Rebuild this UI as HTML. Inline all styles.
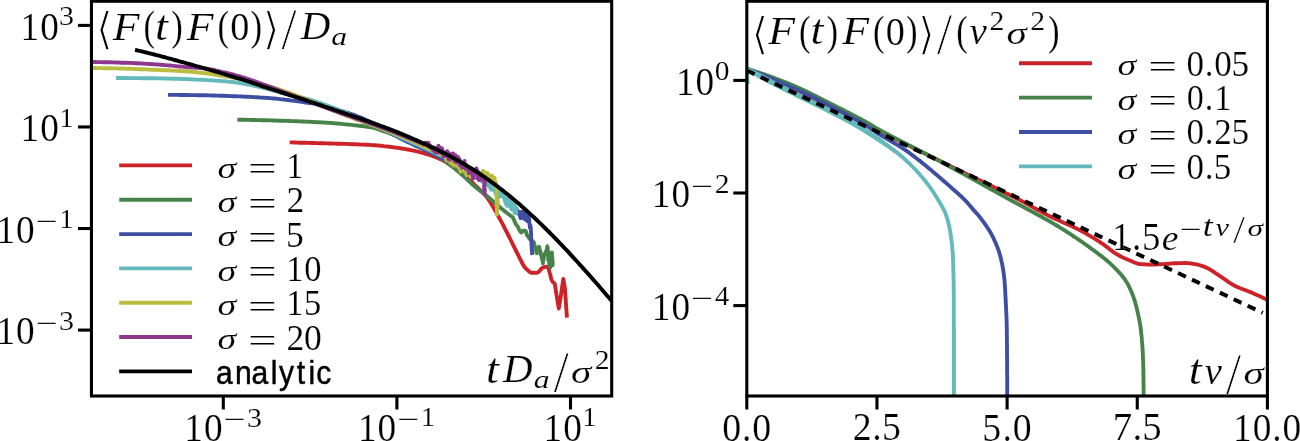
<!DOCTYPE html>
<html lang="en"><head><meta charset="utf-8"><title>Force autocorrelation</title>
<style>html,body{margin:0;padding:0;background:#fff}svg{display:block}text{white-space:pre}</style></head>
<body>
<svg width="1300" height="441" viewBox="0 0 1300 441">
<rect x="0" y="0" width="1300" height="441" fill="#fff"/>
<clipPath id="cl"><rect x="91.45" y="1.25" width="520.25" height="394.75"/></clipPath>
<clipPath id="cr"><rect x="746.80" y="1.25" width="520.60" height="394.75"/></clipPath>
<g clip-path="url(#cl)" fill="none" stroke-linejoin="round" stroke-linecap="butt">
<path d="M289.7 142.4 L291.7 142.4 L293.7 142.5 L295.7 142.5 L297.7 142.6 L299.7 142.7 L301.7 142.7 L303.7 142.8 L305.7 142.8 L307.7 142.9 L309.7 142.9 L311.7 143.0 L313.7 143.0 L315.7 143.1 L317.7 143.1 L319.7 143.2 L321.7 143.2 L323.7 143.3 L325.7 143.4 L327.7 143.4 L329.7 143.5 L331.7 143.5 L333.7 143.6 L335.7 143.6 L337.7 143.7 L339.7 143.8 L341.7 143.8 L343.7 143.9 L345.7 143.9 L347.7 144.0 L349.7 144.1 L351.7 144.2 L353.7 144.2 L355.7 144.3 L357.7 144.4 L359.7 144.5 L361.7 144.6 L363.7 144.6 L365.7 144.7 L367.7 144.8 L369.7 144.9 L371.7 145.1 L373.7 145.2 L375.7 145.3 L377.7 145.5 L379.7 145.7 L381.7 145.8 L383.7 146.1 L385.7 146.3 L387.7 146.5 L389.7 146.8 L391.7 147.0 L393.7 147.3 L395.7 147.6 L397.7 147.9 L399.7 148.2 L401.7 148.5 L403.7 148.8 L405.7 149.1 L407.7 149.5 L409.7 149.9 L411.7 150.3 L413.7 150.7 L415.7 151.2 L417.7 151.6 L419.7 152.1 L421.7 152.6 L423.7 153.2 L425.7 153.8 L427.7 154.4 L429.7 155.0 L431.7 155.7 L433.7 156.4 L435.7 157.2 L437.7 158.0 L439.7 158.9 L441.7 159.8 L443.7 160.9 L445.7 162.0 L447.7 163.3 L449.7 164.6 L451.7 166.0 L453.7 167.5 L455.7 169.1 L457.7 170.7 L459.7 172.3 L461.7 173.8 L463.7 175.4 L465.7 176.9 L467.7 178.6 L469.7 180.2 L471.7 182.0 L473.7 183.9 L475.7 185.8 L477.7 187.7 L479.7 189.7 L481.7 191.6 L483.7 193.6 L485.7 195.8 L487.7 198.4 L489.7 201.3 L491.7 204.6 L493.7 208.0 L495.7 211.5 L497.7 215.1 L499.7 218.7 L501.7 222.4 L503.7 226.2 L505.7 230.1 L507.7 234.0 L509.7 238.0 L511.7 242.0 L513.7 246.1 L515.7 250.1 L517.7 254.1 L519.7 258.1 L521.7 262.0 L523.5 265.6 L523.5 265.6 L524.2 266.6 L525.0 267.5 L525.8 268.4 L526.7 269.2 L527.6 270.1 L528.5 271.0 L529.5 271.9 L530.5 272.5 L531.6 272.8 L532.7 272.8 L534.0 272.8 L535.3 272.8 L536.4 272.8 L537.5 272.6 L538.4 272.1 L539.3 271.2 L540.2 270.1 L541.1 269.1 L542.0 268.2 L543.0 267.6 L544.3 267.2 L545.6 266.8 L546.7 266.6 L547.4 266.8 L547.9 267.4 L548.5 268.5 L548.9 269.9 L549.3 271.4 L549.7 272.8 L550.1 274.0 L550.4 275.2 L550.7 276.4 L551.0 277.7 L551.2 278.9 L551.6 280.0 L552.1 281.0 L552.7 281.9 L553.7 282.7 L554.7 283.5 L556.7 296.2 L558.8 308.5 L560.8 296.2 L563.3 278.9 L564.9 288.0 L566.9 317.7" stroke="#cc2228" stroke-width="3.86" />
<path d="M237.3 119.7 L239.3 119.7 L241.3 119.8 L243.3 119.8 L245.3 119.8 L247.3 119.9 L249.3 119.9 L251.3 120.0 L253.3 120.0 L255.3 120.0 L257.3 120.1 L259.3 120.1 L261.3 120.2 L263.3 120.2 L265.3 120.3 L267.3 120.3 L269.3 120.4 L271.3 120.4 L273.3 120.5 L275.3 120.5 L277.3 120.6 L279.3 120.7 L281.3 120.7 L283.3 120.8 L285.3 120.9 L287.3 120.9 L289.3 121.0 L291.3 121.1 L293.3 121.1 L295.3 121.2 L297.3 121.3 L299.3 121.4 L301.3 121.5 L303.3 121.5 L305.3 121.6 L307.3 121.7 L309.3 121.8 L311.3 121.9 L313.3 122.0 L315.3 122.1 L317.3 122.2 L319.3 122.3 L321.3 122.4 L323.3 122.5 L325.3 122.6 L327.3 122.7 L329.3 122.9 L331.3 123.0 L333.3 123.1 L335.3 123.3 L337.3 123.5 L339.3 123.7 L341.3 123.9 L343.3 124.1 L345.3 124.3 L347.3 124.5 L349.3 124.7 L351.3 124.9 L353.3 125.1 L355.3 125.3 L357.3 125.5 L359.3 125.8 L361.3 126.0 L363.3 126.2 L365.3 126.5 L367.3 126.8 L369.3 127.1 L371.3 127.4 L373.3 127.9 L375.3 128.4 L377.3 129.0 L379.3 129.7 L381.3 130.4 L383.3 131.1 L385.3 131.8 L387.3 132.5 L389.3 133.2 L391.3 133.9 L393.3 134.6 L395.3 135.4 L397.3 136.1 L399.3 136.9 L401.3 137.7 L403.3 138.6 L405.3 139.5 L407.3 140.4 L409.3 141.3 L411.3 142.2 L413.3 143.2 L415.3 144.2 L417.3 145.1 L419.3 146.1 L421.3 147.2 L423.3 148.2 L425.3 149.2 L427.3 150.2 L429.3 151.3 L431.3 152.4 L433.3 153.5 L435.3 154.6 L437.3 155.8 L439.3 157.1 L441.3 158.4 L443.3 159.7 L445.3 161.2 L447.3 162.6 L449.3 164.2 L451.3 165.8 L453.3 167.4 L455.3 169.0 L457.3 170.7 L459.3 172.4 L461.3 174.2 L463.3 175.9 L465.3 177.7 L467.3 179.6 L469.3 181.5 L471.3 183.5 L473.3 185.3 L475.3 186.9 L477.3 188.5 L479.3 190.1 L481.3 191.6 L483.3 193.2 L485.3 194.7 L487.3 196.3 L489.3 198.0 L491.3 199.8 L493.3 201.5 L495.3 203.3 L497.3 205.1 L499.3 206.8 L501.3 208.5 L503.3 210.1 L505.3 211.7 L507.3 213.3 L509.3 214.8 L511.3 216.3 L512.9 217.5 L516.0 224.5 L516.7 225.3 L517.5 226.5 L518.2 227.1 L519.0 229.4 L519.7 230.6 L520.5 231.8 L521.2 232.5 L521.8 232.2 L522.4 231.1 L523.0 230.8 L523.7 230.6 L524.3 230.9 L524.9 230.7 L525.5 230.8 L526.1 232.0 L526.7 234.2 L527.3 235.8 L527.9 236.0 L528.6 236.7 L529.3 238.7 L530.1 238.5 L530.9 239.9 L531.6 241.2 L532.4 241.3 L533.2 241.6 L533.8 242.8 L534.0 242.6 L534.2 243.7 L534.4 244.2 L534.6 245.2 L534.8 245.8 L535.0 246.8 L535.2 247.4 L535.5 248.7 L535.8 249.5 L536.0 250.5 L536.3 252.4 L536.6 250.4 L536.8 253.3 L537.1 251.3 L537.3 249.7 L537.6 250.3 L537.8 250.1 L538.1 250.6 L538.3 247.8 L538.6 249.1 L538.8 248.9 L539.0 246.7 L539.3 247.2 L539.5 249.1 L539.7 249.2 L540.0 250.5 L540.2 251.0 L540.5 252.0 L540.7 252.9 L541.0 255.5 L541.2 254.1 L541.5 256.0 L541.7 257.4 L541.9 255.5 L542.2 260.1 L542.4 257.9 L542.6 259.6 L542.9 263.5 L543.1 258.4 L543.4 257.8 L543.6 259.9 L543.9 255.0 L544.1 254.9 L544.4 255.3 L544.7 254.2 L545.1 253.4 L545.6 252.0 L546.0 252.5 L546.5 250.9 L546.9 249.2 L547.3 246.2 L547.5 247.8 L547.7 247.5 L547.9 253.5 L548.1 250.9 L548.2 257.2 L548.4 260.6 L548.7 257.1 L548.9 259.3 L549.1 261.1 L549.4 265.0 L549.6 263.4 L549.8 266.3 L550.0 266.4 L550.2 265.7 L550.3 267.5 L550.5 262.0 L550.7 262.8 L550.8 261.9 L551.0 261.9 L551.1 256.9 L551.3 260.9 L551.4 258.9 L551.6 259.0 L551.8 256.7 L551.9 252.4 L552.0 254.4 L552.2 258.5 L552.3 257.8 L552.4 258.5 L552.5 263.5 L552.6 265.4 L552.7 261.4" stroke="#46834a" stroke-width="3.86" />
<path d="M168.0 94.9 L170.0 94.9 L172.0 94.9 L174.0 94.9 L176.0 94.9 L178.0 94.9 L180.0 95.0 L182.0 95.0 L184.0 95.0 L186.0 95.0 L188.0 95.0 L190.0 95.1 L192.0 95.1 L194.0 95.1 L196.0 95.1 L198.0 95.2 L200.0 95.2 L202.0 95.2 L204.0 95.3 L206.0 95.3 L208.0 95.4 L210.0 95.4 L212.0 95.5 L214.0 95.5 L216.0 95.6 L218.0 95.6 L220.0 95.7 L222.0 95.8 L224.0 95.8 L226.0 95.9 L228.0 96.0 L230.0 96.1 L232.0 96.1 L234.0 96.2 L236.0 96.3 L238.0 96.4 L240.0 96.4 L242.0 96.5 L244.0 96.6 L246.0 96.7 L248.0 96.8 L250.0 96.9 L252.0 97.0 L254.0 97.1 L256.0 97.2 L258.0 97.3 L260.0 97.5 L262.0 97.6 L264.0 97.7 L266.0 97.9 L268.0 98.0 L270.0 98.1 L272.0 98.3 L274.0 98.5 L276.0 98.7 L278.0 98.9 L280.0 99.1 L282.0 99.3 L284.0 99.5 L286.0 99.8 L288.0 100.0 L290.0 100.3 L292.0 100.6 L294.0 100.8 L296.0 101.1 L298.0 101.4 L300.0 101.6 L302.0 101.9 L304.0 102.3 L306.0 102.6 L308.0 102.9 L310.0 103.1 L312.0 103.4 L314.0 103.7 L316.0 104.1 L318.0 104.5 L320.0 104.9 L322.0 105.5 L324.0 106.0 L326.0 106.6 L328.0 107.2 L330.0 107.8 L332.0 108.4 L334.0 108.9 L336.0 109.5 L338.0 110.0 L340.0 110.6 L342.0 111.1 L344.0 111.7 L346.0 112.3 L348.0 112.9 L350.0 113.5 L352.0 114.2 L354.0 114.9 L356.0 115.7 L358.0 116.5 L360.0 117.3 L362.0 118.1 L364.0 119.0 L366.0 119.9 L368.0 120.8 L370.0 121.7 L372.0 122.8 L374.0 123.8 L376.0 124.9 L378.0 126.0 L380.0 127.1 L382.0 128.2 L384.0 129.4 L386.0 130.5 L388.0 131.6 L390.0 132.7 L392.0 133.8 L394.0 135.0 L396.0 136.1 L398.0 137.1 L400.0 138.2 L402.0 139.2 L404.0 140.2 L406.0 141.2 L408.0 142.2 L410.0 143.1 L412.0 144.0 L414.0 145.0 L416.0 145.9 L418.0 146.8 L420.0 147.7 L422.0 148.6 L424.0 149.5 L426.0 150.4 L428.0 151.3 L430.0 152.3 L432.0 153.2 L434.0 154.1 L436.0 155.1 L438.0 156.1 L440.0 157.1 L442.0 158.2 L444.0 159.2 L446.0 160.2 L448.0 161.3 L450.0 162.3 L452.0 163.3 L454.0 164.4 L456.0 165.5 L458.0 166.6 L460.0 167.7 L462.0 168.8 L464.0 169.9 L466.0 171.0 L468.0 172.2 L470.0 173.3 L472.0 174.5 L474.0 175.8 L476.0 177.0 L478.0 178.3 L480.0 179.5 L482.0 180.9 L484.0 182.2 L486.0 183.6 L488.0 185.0 L490.0 186.5 L492.0 187.9 L494.0 189.4 L496.0 191.0 L498.0 192.5 L500.0 194.1 L502.0 195.7 L504.0 197.3 L506.0 199.0 L508.0 200.6 L510.0 202.3 L511.0 203.1 L512.0 204.2 L512.5 205.1 L513.0 204.4 L513.5 206.8 L514.0 206.2 L514.5 205.8 L515.0 207.8 L515.5 210.2 L516.0 210.6 L516.5 208.6 L517.0 211.9 L517.5 211.7 L518.0 213.6 L518.5 213.5 L519.0 211.8 L519.5 215.2 L520.0 214.0 L520.5 218.2 L521.0 216.0 L521.5 213.7 L522.0 211.7 L522.5 213.2 L523.0 214.8 L523.5 211.8 L524.0 218.8 L524.5 216.2 L525.0 219.2 L525.5 213.2 L526.0 220.0 L526.5 214.5 L527.0 216.6 L527.5 221.3 L528.0 221.3 L528.5 216.5 L529.0 218.8 L529.5 223.6 L530.0 228.0 L530.5 225.7 L531.0 232.0 L531.6 246.0 L532.2 255.0" stroke="#3e4ea2" stroke-width="3.86" />
<path d="M116.0 78.0 L118.0 78.0 L120.0 78.0 L122.0 78.0 L124.0 78.0 L126.0 78.0 L128.0 78.0 L130.0 78.1 L132.0 78.1 L134.0 78.1 L136.0 78.1 L138.0 78.1 L140.0 78.1 L142.0 78.2 L144.0 78.2 L146.0 78.2 L148.0 78.2 L150.0 78.3 L152.0 78.3 L154.0 78.3 L156.0 78.3 L158.0 78.4 L160.0 78.4 L162.0 78.4 L164.0 78.5 L166.0 78.5 L168.0 78.6 L170.0 78.6 L172.0 78.7 L174.0 78.7 L176.0 78.8 L178.0 78.8 L180.0 78.9 L182.0 79.0 L184.0 79.0 L186.0 79.1 L188.0 79.2 L190.0 79.3 L192.0 79.4 L194.0 79.5 L196.0 79.6 L198.0 79.6 L200.0 79.7 L202.0 79.8 L204.0 79.9 L206.0 80.0 L208.0 80.1 L210.0 80.3 L212.0 80.4 L214.0 80.5 L216.0 80.6 L218.0 80.8 L220.0 80.9 L222.0 81.1 L224.0 81.2 L226.0 81.4 L228.0 81.6 L230.0 81.8 L232.0 82.0 L234.0 82.2 L236.0 82.5 L238.0 82.8 L240.0 83.1 L242.0 83.4 L244.0 83.8 L246.0 84.1 L248.0 84.5 L250.0 84.9 L252.0 85.4 L254.0 85.8 L256.0 86.2 L258.0 86.6 L260.0 87.1 L262.0 87.6 L264.0 88.0 L266.0 88.6 L268.0 89.1 L270.0 89.6 L272.0 90.1 L274.0 90.7 L276.0 91.2 L278.0 91.7 L280.0 92.3 L282.0 92.8 L284.0 93.3 L286.0 93.8 L288.0 94.3 L290.0 94.8 L292.0 95.2 L294.0 95.7 L296.0 96.2 L298.0 96.6 L300.0 97.1 L302.0 97.6 L304.0 98.1 L306.0 98.6 L308.0 99.1 L310.0 99.7 L312.0 100.3 L314.0 100.9 L316.0 101.5 L318.0 102.2 L320.0 102.9 L322.0 103.6 L324.0 104.3 L326.0 105.0 L328.0 105.8 L330.0 106.5 L332.0 107.3 L334.0 108.0 L336.0 108.8 L338.0 109.6 L340.0 110.4 L342.0 111.2 L344.0 112.1 L346.0 112.9 L348.0 113.8 L350.0 114.6 L352.0 115.5 L354.0 116.4 L356.0 117.3 L358.0 118.1 L360.0 119.0 L362.0 119.9 L364.0 120.8 L366.0 121.6 L368.0 122.5 L370.0 123.4 L372.0 124.3 L374.0 125.2 L376.0 126.1 L378.0 127.0 L380.0 127.9 L382.0 128.8 L384.0 129.7 L386.0 130.6 L388.0 131.5 L390.0 132.4 L392.0 133.3 L394.0 134.3 L396.0 135.2 L398.0 136.1 L400.0 137.0 L402.0 137.9 L404.0 138.8 L406.0 139.7 L408.0 140.6 L410.0 141.5 L412.0 142.4 L414.0 143.3 L416.0 144.2 L418.0 145.1 L420.0 146.0 L422.0 146.9 L424.0 147.8 L426.0 148.7 L428.0 149.6 L430.0 150.5 L432.0 151.5 L434.0 152.4 L436.0 153.4 L438.0 154.3 L440.0 155.3 L442.0 156.3 L444.0 157.3 L446.0 158.3 L448.0 159.4 L450.0 160.4 L452.0 161.5 L454.0 162.6 L456.0 163.7 L458.0 164.9 L460.0 166.0 L462.0 167.2 L464.0 168.4 L466.0 169.6 L468.0 170.9 L470.0 172.1 L472.0 173.4 L474.0 174.7 L476.0 175.9 L478.0 177.2 L479.0 177.9 L480.0 179.0 L480.5 179.1 L481.0 179.2 L481.5 178.1 L482.0 179.8 L482.5 180.5 L483.0 181.1 L483.5 181.0 L484.0 181.8 L484.5 181.7 L485.0 181.4 L485.5 184.3 L486.0 184.1 L486.5 185.3 L487.0 184.1 L487.5 183.6 L488.0 183.8 L488.5 182.5 L489.0 186.8 L489.5 183.8 L490.0 184.8 L490.5 186.3 L491.0 189.7 L491.5 187.9 L492.0 185.5 L492.5 186.8 L493.0 189.5 L493.5 188.7 L494.0 187.9 L494.5 188.7 L495.0 190.6 L495.5 193.9 L496.0 187.9 L496.5 190.3 L497.0 189.9 L497.5 187.3 L498.0 191.7 L498.5 191.5 L499.0 197.2 L499.5 194.5 L500.0 190.4 L500.5 196.2 L501.0 194.6 L501.5 191.8 L502.0 194.7 L502.5 194.4 L503.0 194.7 L503.5 197.3 L504.0 192.3 L504.5 198.3 L505.0 201.7 L505.5 201.6 L506.0 204.2 L506.5 204.5 L507.0 205.8 L507.5 199.6 L508.0 204.6 L508.5 198.2 L509.0 201.4 L509.5 198.2 L510.0 206.9 L510.5 207.2 L511.0 203.5 L511.5 209.4 L512.0 202.2 L512.5 206.9 L513.0 207.3 L513.5 203.7 L514.0 208.7 L514.5 213.0 L515.0 205.8 L515.5 212.0 L516.0 208.7 L516.5 214.6" stroke="#64b9bb" stroke-width="3.86" />
<path d="M91.7 68.0 L93.7 68.0 L95.7 68.0 L97.7 68.1 L99.7 68.1 L101.7 68.1 L103.7 68.2 L105.7 68.2 L107.7 68.2 L109.7 68.3 L111.7 68.3 L113.7 68.4 L115.7 68.4 L117.7 68.4 L119.7 68.5 L121.7 68.5 L123.7 68.6 L125.7 68.7 L127.7 68.7 L129.7 68.8 L131.7 68.9 L133.7 68.9 L135.7 69.0 L137.7 69.1 L139.7 69.2 L141.7 69.3 L143.7 69.3 L145.7 69.4 L147.7 69.5 L149.7 69.6 L151.7 69.7 L153.7 69.8 L155.7 69.8 L157.7 69.9 L159.7 70.0 L161.7 70.1 L163.7 70.2 L165.7 70.3 L167.7 70.3 L169.7 70.4 L171.7 70.5 L173.7 70.6 L175.7 70.7 L177.7 70.9 L179.7 71.0 L181.7 71.1 L183.7 71.2 L185.7 71.3 L187.7 71.5 L189.7 71.7 L191.7 71.8 L193.7 72.0 L195.7 72.2 L197.7 72.5 L199.7 72.7 L201.7 72.9 L203.7 73.1 L205.7 73.4 L207.7 73.6 L209.7 73.9 L211.7 74.2 L213.7 74.5 L215.7 74.9 L217.7 75.2 L219.7 75.5 L221.7 75.9 L223.7 76.2 L225.7 76.5 L227.7 76.9 L229.7 77.2 L231.7 77.6 L233.7 77.9 L235.7 78.2 L237.7 78.6 L239.7 79.0 L241.7 79.3 L243.7 79.7 L245.7 80.1 L247.7 80.5 L249.7 81.0 L251.7 81.4 L253.7 81.9 L255.7 82.4 L257.7 82.9 L259.7 83.5 L261.7 84.0 L263.7 84.6 L265.7 85.2 L267.7 85.8 L269.7 86.4 L271.7 87.0 L273.7 87.6 L275.7 88.3 L277.7 88.9 L279.7 89.6 L281.7 90.3 L283.7 91.0 L285.7 91.7 L287.7 92.4 L289.7 93.1 L291.7 93.8 L293.7 94.5 L295.7 95.3 L297.7 96.0 L299.7 96.8 L301.7 97.6 L303.7 98.4 L305.7 99.2 L307.7 100.0 L309.7 100.8 L311.7 101.6 L313.7 102.4 L315.7 103.2 L317.7 104.1 L319.7 104.9 L321.7 105.7 L323.7 106.5 L325.7 107.3 L327.7 108.2 L329.7 109.0 L331.7 109.8 L333.7 110.7 L335.7 111.5 L337.7 112.3 L339.7 113.1 L341.7 113.9 L343.7 114.7 L345.7 115.4 L347.7 116.2 L349.7 117.0 L351.7 117.7 L353.7 118.4 L355.7 119.2 L357.7 119.9 L359.7 120.6 L361.7 121.4 L363.7 122.1 L365.7 122.8 L367.7 123.5 L369.7 124.2 L371.7 125.0 L373.7 125.7 L375.7 126.4 L377.7 127.2 L379.7 127.9 L381.7 128.6 L383.7 129.4 L385.7 130.1 L387.7 130.9 L389.7 131.7 L391.7 132.4 L393.7 133.2 L395.7 134.0 L397.7 134.9 L399.7 135.7 L401.7 136.5 L403.7 137.4 L405.7 138.2 L407.7 139.1 L409.7 140.0 L411.7 140.8 L413.7 141.7 L415.7 142.6 L417.7 143.5 L419.7 144.5 L421.7 145.4 L423.7 146.3 L425.7 147.2 L427.7 148.2 L429.7 149.1 L431.7 150.1 L433.7 151.1 L435.7 152.0 L437.7 153.0 L439.7 154.0 L441.7 155.0 L443.7 156.0 L444.0 156.1 L445.0 157.6 L445.5 157.6 L446.0 155.7 L446.5 160.5 L447.0 156.7 L447.5 158.2 L448.0 160.3 L448.5 157.8 L449.0 158.2 L449.5 158.6 L450.0 161.2 L450.5 163.2 L451.0 160.8 L451.5 159.1 L452.0 161.2 L452.5 161.2 L453.0 162.5 L453.5 165.3 L454.0 162.2 L454.5 164.4 L455.0 163.3 L455.5 164.8 L456.0 165.8 L456.5 164.5 L457.0 165.2 L457.5 166.5 L458.0 167.1 L458.5 165.7 L459.0 165.1 L459.5 167.7 L460.0 167.8 L460.5 171.8 L461.0 163.7 L461.5 168.1 L462.0 168.3 L462.5 170.4 L463.0 170.1 L463.5 167.8 L464.0 169.5 L464.5 171.9 L465.0 170.9 L465.5 173.0 L466.0 167.9 L466.5 175.2 L467.0 174.9 L467.5 171.9 L468.0 174.0 L468.5 173.3 L469.0 171.5 L469.5 173.1 L470.0 175.2 L470.5 171.9 L471.0 171.9 L471.5 171.9 L472.0 174.0 L472.5 175.9 L473.0 172.7 L473.5 174.6 L474.0 174.5 L474.5 171.0 L475.0 174.1 L475.5 175.3 L476.0 175.4 L476.5 175.2 L477.0 170.6 L477.5 174.2 L478.0 173.4 L478.5 171.9 L479.0 175.5 L479.5 176.9 L480.0 174.5 L480.5 176.7 L481.0 174.1 L481.5 174.6 L482.0 172.8 L482.5 178.7 L483.0 170.7 L483.5 176.4 L484.0 177.5 L484.5 171.9 L485.0 175.3 L485.5 174.4 L486.0 176.5 L486.5 178.1 L487.0 174.8 L487.5 172.9 L488.0 178.2 L488.5 177.7 L489.0 175.2 L489.5 177.2 L490.0 176.9 L490.5 178.0 L491.0 178.5 L491.5 182.3 L492.0 175.5 L492.5 181.9 L493.0 180.9 L493.5 180.8 L494.0 184.3 L494.5 177.7 L495.0 186.1 L495.5 184.7 L496.0 182.5 L496.5 186.6 L496.5 190.0 L497.0 214.5 L497.6 200.0 L498.0 205.0" stroke="#babd40" stroke-width="3.86" />
<path d="M91.7 62.0 L93.7 62.0 L95.7 62.0 L97.7 62.1 L99.7 62.1 L101.7 62.1 L103.7 62.2 L105.7 62.2 L107.7 62.3 L109.7 62.3 L111.7 62.4 L113.7 62.4 L115.7 62.5 L117.7 62.5 L119.7 62.6 L121.7 62.7 L123.7 62.7 L125.7 62.8 L127.7 62.9 L129.7 62.9 L131.7 63.0 L133.7 63.1 L135.7 63.2 L137.7 63.3 L139.7 63.4 L141.7 63.5 L143.7 63.6 L145.7 63.8 L147.7 63.9 L149.7 64.0 L151.7 64.1 L153.7 64.2 L155.7 64.4 L157.7 64.5 L159.7 64.7 L161.7 64.8 L163.7 65.0 L165.7 65.1 L167.7 65.3 L169.7 65.5 L171.7 65.7 L173.7 65.9 L175.7 66.1 L177.7 66.3 L179.7 66.5 L181.7 66.7 L183.7 66.9 L185.7 67.1 L187.7 67.2 L189.7 67.4 L191.7 67.5 L193.7 67.6 L195.7 67.7 L197.7 67.9 L199.7 68.0 L201.7 68.2 L203.7 68.4 L205.7 68.6 L207.7 68.8 L209.7 69.2 L211.7 69.5 L213.7 69.9 L215.7 70.4 L217.7 70.8 L219.7 71.3 L221.7 71.8 L223.7 72.2 L225.7 72.7 L227.7 73.2 L229.7 73.7 L231.7 74.2 L233.7 74.7 L235.7 75.3 L237.7 75.8 L239.7 76.4 L241.7 77.0 L243.7 77.6 L245.7 78.2 L247.7 78.9 L249.7 79.5 L251.7 80.2 L253.7 80.9 L255.7 81.6 L257.7 82.4 L259.7 83.1 L261.7 83.9 L263.7 84.6 L265.7 85.3 L267.7 86.1 L269.7 86.8 L271.7 87.5 L273.7 88.3 L275.7 89.1 L277.7 89.8 L279.7 90.6 L281.7 91.3 L283.7 92.1 L285.7 92.8 L287.7 93.5 L289.7 94.3 L291.7 95.0 L293.7 95.7 L295.7 96.5 L297.7 97.2 L299.7 97.9 L301.7 98.6 L303.7 99.4 L305.7 100.1 L307.7 100.8 L309.7 101.6 L311.7 102.3 L313.7 103.1 L315.7 103.8 L317.7 104.6 L319.7 105.4 L321.7 106.1 L323.7 106.9 L325.7 107.6 L327.7 108.4 L329.7 109.1 L331.7 109.9 L333.7 110.6 L335.7 111.3 L337.7 112.0 L339.7 112.8 L341.7 113.5 L343.7 114.2 L345.7 114.9 L347.7 115.6 L349.7 116.3 L351.7 117.0 L353.7 117.7 L355.7 118.4 L357.7 119.1 L359.7 119.8 L361.7 120.5 L363.7 121.2 L365.7 121.9 L367.7 122.6 L369.7 123.3 L371.7 124.0 L373.7 124.8 L375.7 125.5 L377.7 126.2 L379.7 126.9 L381.7 127.6 L383.7 128.4 L385.7 129.1 L387.7 129.8 L389.7 130.6 L391.7 131.3 L393.7 132.1 L395.7 132.8 L397.7 133.6 L399.7 134.4 L401.7 135.2 L403.7 136.0 L405.7 136.8 L407.7 137.6 L409.7 138.4 L411.7 139.3 L413.7 140.1 L415.7 141.0 L417.7 141.8 L419.7 142.7 L421.7 143.5 L423.7 144.4 L424.0 144.5 L425.0 144.7 L425.5 142.8 L426.0 143.4 L426.5 144.3 L427.0 142.8 L427.5 143.9 L428.0 144.1 L428.5 142.7 L429.0 146.7 L429.5 146.4 L430.0 145.4 L430.5 146.6 L431.0 148.1 L431.5 147.2 L432.0 148.0 L432.5 147.1 L433.0 150.2 L433.5 150.0 L434.0 150.6 L434.5 147.7 L435.0 152.3 L435.5 150.5 L436.0 149.3 L436.5 152.7 L437.0 149.4 L437.5 147.6 L438.0 149.7 L438.5 145.7 L439.0 152.2 L439.5 150.0 L440.0 149.4 L440.5 152.7 L441.0 148.0 L441.5 152.5 L442.0 148.3 L442.5 151.6 L443.0 151.2 L443.5 156.6 L444.0 156.3 L444.5 152.4 L445.0 155.2 L445.5 153.0 L446.0 155.0 L446.5 153.3 L447.0 151.1 L447.5 151.8 L448.0 156.0 L448.5 159.1 L449.0 155.7 L449.5 153.4 L450.0 159.9 L450.5 157.7 L451.0 157.5 L451.5 157.5 L452.0 156.9 L452.5 156.0 L453.0 153.5 L453.5 157.4 L454.0 157.1 L454.5 161.4 L455.0 157.6 L455.5 155.1 L456.0 159.1 L456.5 162.5 L457.0 157.8 L457.5 158.0 L458.0 156.9 L458.5 158.5 L459.0 161.0 L459.5 159.1 L460.0 165.4 L460.5 161.2 L461.0 162.3 L461.5 166.2 L462.0 167.7 L462.5 164.3 L463.0 166.0 L463.5 166.4 L464.0 164.6 L464.5 161.0 L465.0 167.4 L465.5 168.7 L466.0 168.2 L466.5 165.1 L467.0 166.7 L467.5 166.4 L468.0 166.6 L468.5 171.5 L469.0 173.3 L469.5 172.6 L470.0 172.4 L470.5 172.4 L471.0 171.5 L471.5 171.7 L472.0 168.8 L472.5 171.7 L473.0 178.8 L473.5 175.2 L474.0 171.4 L474.5 171.9 L475.0 170.1 L475.5 173.2 L476.0 173.0 L476.5 168.3 L477.0 173.9 L477.5 171.1 L478.0 178.8 L478.5 174.7 L479.0 180.2 L479.5 173.4 L480.0 174.4 L480.5 175.7 L481.0 179.1 L481.5 178.9 L482.0 175.2 L482.5 178.8 L483.0 179.1 L483.5 179.2 L484.0 178.6 L484.5 186.1 L485.0 179.4 L485.5 178.3 L484.0 186.0 L484.5 194.5 L485.0 188.0" stroke="#8e378f" stroke-width="3.86" />
<path d="M135.0 49.9 L136.6 50.2 L138.2 50.6 L139.8 50.9 L141.4 51.3 L143.0 51.7 L144.6 52.1 L146.2 52.5 L147.8 52.9 L149.3 53.3 L150.9 53.7 L152.5 54.1 L154.1 54.5 L155.7 54.9 L157.3 55.3 L158.9 55.7 L160.5 56.2 L162.1 56.6 L163.7 57.0 L165.3 57.4 L166.9 57.9 L168.5 58.3 L170.1 58.7 L171.7 59.2 L173.3 59.6 L174.9 60.0 L176.5 60.5 L178.0 60.9 L179.6 61.4 L181.2 61.8 L182.8 62.2 L184.4 62.7 L186.0 63.1 L187.6 63.6 L189.2 64.0 L190.8 64.5 L192.4 64.9 L194.0 65.4 L195.6 65.8 L197.2 66.3 L198.8 66.7 L200.4 67.2 L202.0 67.6 L203.6 68.1 L205.1 68.5 L206.7 69.0 L208.3 69.5 L209.9 69.9 L211.5 70.4 L213.1 70.8 L214.7 71.3 L216.3 71.8 L217.9 72.2 L219.5 72.7 L221.1 73.2 L222.7 73.7 L224.3 74.1 L225.9 74.6 L227.5 75.1 L229.1 75.6 L230.7 76.0 L232.3 76.5 L233.8 77.0 L235.4 77.5 L237.0 78.0 L238.6 78.4 L240.2 78.9 L241.8 79.4 L243.4 79.9 L245.0 80.4 L246.6 80.9 L248.2 81.4 L249.8 81.9 L251.4 82.5 L253.0 83.0 L254.6 83.6 L256.2 84.1 L257.8 84.7 L259.4 85.2 L261.0 85.8 L262.5 86.3 L264.1 86.8 L265.7 87.3 L267.3 87.8 L268.9 88.3 L270.5 88.9 L272.1 89.4 L273.7 89.9 L275.3 90.4 L276.9 90.9 L278.5 91.4 L280.1 92.0 L281.7 92.5 L283.3 93.0 L284.9 93.5 L286.5 94.0 L288.1 94.5 L289.6 95.1 L291.2 95.6 L292.8 96.1 L294.4 96.6 L296.0 97.1 L297.6 97.7 L299.2 98.2 L300.8 98.7 L302.4 99.2 L304.0 99.7 L305.6 100.2 L307.2 100.8 L308.8 101.3 L310.4 101.8 L312.0 102.3 L313.6 102.9 L315.2 103.4 L316.8 103.9 L318.3 104.4 L319.9 105.0 L321.5 105.5 L323.1 106.0 L324.7 106.6 L326.3 107.1 L327.9 107.6 L329.5 108.2 L331.1 108.7 L332.7 109.2 L334.3 109.8 L335.9 110.3 L337.5 110.9 L339.1 111.4 L340.7 112.0 L342.3 112.5 L343.9 113.0 L345.4 113.6 L347.0 114.1 L348.6 114.7 L350.2 115.2 L351.8 115.7 L353.4 116.3 L355.0 116.8 L356.6 117.4 L358.2 117.9 L359.8 118.4 L361.4 119.0 L363.0 119.5 L364.6 120.1 L366.2 120.6 L367.8 121.2 L369.4 121.8 L371.0 122.3 L372.6 122.9 L374.1 123.5 L375.7 124.0 L377.3 124.6 L378.9 125.2 L380.5 125.8 L382.1 126.3 L383.7 126.9 L385.3 127.5 L386.9 128.1 L388.5 128.7 L390.1 129.3 L391.7 129.9 L393.3 130.5 L394.9 131.2 L396.5 131.8 L398.1 132.4 L399.7 133.1 L401.3 133.7 L402.8 134.4 L404.4 135.0 L406.0 135.7 L407.6 136.4 L409.2 137.1 L410.8 137.8 L412.4 138.5 L414.0 139.2 L415.6 139.9 L417.2 140.6 L418.8 141.3 L420.4 142.0 L422.0 142.7 L423.6 143.4 L425.2 144.1 L426.8 144.9 L428.4 145.6 L429.9 146.3 L431.5 147.1 L433.1 147.8 L434.7 148.6 L436.3 149.3 L437.9 150.1 L439.5 150.9 L441.1 151.7 L442.7 152.5 L444.3 153.3 L445.9 154.1 L447.5 154.9 L449.1 155.7 L450.7 156.6 L452.3 157.4 L453.9 158.3 L455.5 159.2 L457.1 160.0 L458.6 160.9 L460.2 161.9 L461.8 162.8 L463.4 163.7 L465.0 164.6 L466.6 165.6 L468.2 166.6 L469.8 167.5 L471.4 168.5 L473.0 169.5 L474.6 170.5 L476.2 171.5 L477.8 172.6 L479.4 173.6 L481.0 174.7 L482.6 175.8 L484.2 176.8 L485.7 177.9 L487.3 179.1 L488.9 180.2 L490.5 181.3 L492.1 182.5 L493.7 183.6 L495.3 184.8 L496.9 186.0 L498.5 187.2 L500.1 188.5 L501.7 189.7 L503.3 190.9 L504.9 192.2 L506.5 193.5 L508.1 194.7 L509.7 196.0 L511.3 197.4 L512.9 198.7 L514.4 200.0 L516.0 201.4 L517.6 202.7 L519.2 204.1 L520.8 205.5 L522.4 206.9 L524.0 208.3 L525.6 209.7 L527.2 211.2 L528.8 212.6 L530.4 214.1 L532.0 215.6 L533.6 217.0 L535.2 218.5 L536.8 220.0 L538.4 221.6 L540.0 223.1 L541.6 224.6 L543.1 226.2 L544.7 227.8 L546.3 229.3 L547.9 230.9 L549.5 232.5 L551.1 234.1 L552.7 235.7 L554.3 237.4 L555.9 239.0 L557.5 240.6 L559.1 242.3 L560.7 244.0 L562.3 245.6 L563.9 247.3 L565.5 249.0 L567.1 250.7 L568.7 252.4 L570.2 254.1 L571.8 255.8 L573.4 257.6 L575.0 259.3 L576.6 261.0 L578.2 262.8 L579.8 264.6 L581.4 266.3 L583.0 268.1 L584.6 269.9 L586.2 271.7 L587.8 273.4 L589.4 275.2 L591.0 277.0 L592.6 278.9 L594.2 280.7 L595.8 282.5 L597.4 284.3 L598.9 286.1 L600.5 288.0 L602.1 289.8 L603.7 291.7 L605.3 293.5 L606.9 295.4 L608.5 297.2 L610.1 299.1 L611.7 301.0" stroke="#000000" stroke-width="3.95" />
</g>
<g clip-path="url(#cr)" fill="none" stroke-linejoin="round" stroke-linecap="butt">
<path d="M746.8 68.7 L748.6 69.4 L750.3 70.2 L752.1 71.0 L753.9 71.7 L755.6 72.5 L757.4 73.3 L759.2 74.1 L760.9 74.8 L762.7 75.6 L764.5 76.4 L766.2 77.2 L768.0 77.9 L769.7 78.7 L771.5 79.5 L773.3 80.3 L775.0 81.1 L776.8 81.9 L778.5 82.7 L780.3 83.5 L782.0 84.3 L783.8 85.0 L785.5 85.8 L787.3 86.6 L789.1 87.4 L790.8 88.2 L792.6 89.0 L794.3 89.8 L796.1 90.7 L797.8 91.5 L799.6 92.3 L801.3 93.1 L803.0 93.9 L804.8 94.7 L806.5 95.5 L808.3 96.3 L810.0 97.2 L811.8 98.0 L813.5 98.8 L815.2 99.6 L817.0 100.5 L818.7 101.3 L820.5 102.1 L822.2 103.0 L823.9 103.8 L825.7 104.6 L827.4 105.5 L829.1 106.3 L830.9 107.1 L832.6 108.0 L834.3 108.8 L836.1 109.7 L837.8 110.5 L839.5 111.4 L841.3 112.2 L843.0 113.0 L844.7 113.9 L846.5 114.7 L848.2 115.6 L849.9 116.4 L851.6 117.3 L853.4 118.1 L855.1 119.0 L856.8 119.8 L858.6 120.7 L860.3 121.5 L862.0 122.4 L863.7 123.2 L865.5 124.1 L867.2 124.9 L868.9 125.8 L870.6 126.6 L872.4 127.5 L874.1 128.4 L875.8 129.2 L877.5 130.1 L879.3 130.9 L881.0 131.8 L882.7 132.6 L884.4 133.5 L886.2 134.4 L887.9 135.2 L889.6 136.1 L891.3 136.9 L893.1 137.8 L894.8 138.7 L896.5 139.5 L898.2 140.4 L900.0 141.2 L901.7 142.1 L903.4 142.9 L905.1 143.8 L906.9 144.6 L908.6 145.5 L910.3 146.3 L912.0 147.2 L913.8 148.1 L915.5 148.9 L917.2 149.8 L919.0 150.6 L920.7 151.5 L922.4 152.3 L924.1 153.2 L925.9 154.0 L927.6 154.9 L929.3 155.7 L931.0 156.6 L932.8 157.4 L934.5 158.3 L936.2 159.1 L938.0 160.0 L939.7 160.8 L941.4 161.7 L943.1 162.5 L944.9 163.4 L946.6 164.2 L948.3 165.1 L950.0 165.9 L951.8 166.8 L953.5 167.6 L955.2 168.5 L957.0 169.3 L958.7 170.2 L960.4 171.0 L962.2 171.9 L963.9 172.7 L965.6 173.5 L967.4 174.4 L969.1 175.2 L970.8 176.0 L972.6 176.9 L974.3 177.7 L976.1 178.5 L977.8 179.4 L979.5 180.2 L981.3 181.0 L983.0 181.9 L984.7 182.7 L986.5 183.6 L988.2 184.4 L989.9 185.2 L991.7 186.1 L993.4 186.9 L995.1 187.8 L996.9 188.6 L998.6 189.5 L1000.3 190.3 L1002.0 191.2 L1003.8 192.0 L1005.5 192.9 L1007.2 193.7 L1008.9 194.6 L1010.7 195.4 L1012.4 196.3 L1014.1 197.2 L1015.8 198.1 L1017.5 198.9 L1019.2 199.8 L1021.0 200.7 L1022.7 201.6 L1024.4 202.5 L1026.0 203.4 L1027.7 204.4 L1029.4 205.3 L1031.1 206.2 L1032.8 207.2 L1034.5 208.1 L1036.2 209.0 L1037.9 210.0 L1039.5 210.9 L1041.2 211.8 L1042.9 212.7 L1044.6 213.6 L1046.3 214.5 L1048.0 215.4 L1049.8 216.3 L1051.5 217.1 L1053.2 217.9 L1055.0 218.8 L1056.7 219.5 L1058.5 220.3 L1060.3 221.1 L1062.0 221.9 L1063.8 222.7 L1065.6 223.4 L1067.3 224.2 L1069.1 225.0 L1070.9 225.8 L1072.6 226.6 L1074.3 227.4 L1076.1 228.2 L1077.8 229.1 L1079.5 230.0 L1081.2 230.9 L1082.9 231.8 L1084.6 232.7 L1086.2 233.7 L1087.9 234.7 L1089.6 235.6 L1091.2 236.6 L1092.9 237.6 L1094.5 238.6 L1096.2 239.7 L1097.8 240.7 L1099.4 241.7 L1101.0 242.8 L1102.6 243.8 L1104.2 245.0 L1105.7 246.1 L1107.3 247.3 L1108.8 248.5 L1110.3 249.7 L1111.9 250.9 L1113.4 252.0 L1115.0 253.1 L1116.6 254.1 L1118.3 255.0 L1120.0 256.0 L1121.7 256.9 L1123.4 257.7 L1125.2 258.5 L1126.9 259.3 L1128.7 260.0 L1130.5 260.8 L1132.3 261.6 L1134.1 262.4 L1135.9 263.0 L1137.7 263.6 L1139.6 264.0 L1141.5 264.1 L1143.4 264.3 L1145.3 264.4 L1147.3 264.5 L1149.2 264.6 L1151.1 264.6 L1153.0 264.6 L1155.0 264.5 L1156.9 264.4 L1158.8 264.3 L1160.7 264.2 L1162.7 264.1 L1164.6 264.0 L1166.5 263.8 L1168.4 263.7 L1170.4 263.6 L1172.3 263.4 L1174.2 263.3 L1176.1 263.3 L1178.1 263.2 L1180.0 263.1 L1181.9 263.1 L1183.8 263.0 L1185.8 263.0 L1187.7 263.1 L1189.6 263.3 L1191.5 263.5 L1193.4 263.8 L1195.3 264.2 L1197.2 264.5 L1199.1 265.0 L1200.9 265.6 L1202.8 266.2 L1204.6 266.9 L1206.3 267.6 L1208.0 268.4 L1209.7 269.4 L1211.4 270.4 L1213.0 271.4 L1214.6 272.5 L1216.2 273.6 L1217.8 274.7 L1219.4 275.7 L1221.1 276.8 L1222.7 277.9 L1224.3 279.0 L1225.9 280.1 L1227.4 281.2 L1229.0 282.3 L1230.6 283.3 L1232.3 284.4 L1233.9 285.3 L1235.6 286.2 L1237.3 287.0 L1239.1 287.8 L1240.9 288.5 L1242.7 289.2 L1244.5 289.8 L1246.3 290.5 L1248.1 291.2 L1249.9 291.9 L1251.7 292.6 L1253.5 293.4 L1255.2 294.2 L1257.0 295.0 L1258.7 295.8 L1260.5 296.6 L1262.2 297.4 L1263.9 298.3 L1265.7 299.1 L1267.4 300.0" stroke="#cc2228" stroke-width="3.86" />
<path d="M746.8 68.7 L748.6 69.2 L750.4 69.8 L752.1 70.3 L753.9 70.9 L755.7 71.5 L757.4 72.0 L759.2 72.6 L760.9 73.2 L762.7 73.8 L764.5 74.4 L766.2 75.0 L767.9 75.6 L769.7 76.3 L771.4 76.9 L773.2 77.5 L774.9 78.2 L776.6 78.9 L778.4 79.5 L780.1 80.2 L781.8 80.9 L783.6 81.5 L785.3 82.2 L787.0 82.9 L788.7 83.6 L790.4 84.4 L792.2 85.1 L793.9 85.8 L795.6 86.5 L797.3 87.3 L799.0 88.0 L800.7 88.8 L802.3 89.5 L804.0 90.3 L805.7 91.1 L807.4 91.9 L809.0 92.7 L810.7 93.5 L812.4 94.4 L814.0 95.2 L815.7 96.0 L817.3 96.9 L819.0 97.7 L820.6 98.6 L822.3 99.4 L823.9 100.3 L825.6 101.1 L827.2 102.0 L828.9 102.8 L830.6 103.6 L832.2 104.5 L833.9 105.3 L835.5 106.1 L837.2 107.0 L838.8 107.8 L840.5 108.6 L842.2 109.5 L843.8 110.3 L845.5 111.2 L847.1 112.0 L848.8 112.8 L850.4 113.7 L852.1 114.5 L853.7 115.4 L855.4 116.2 L857.0 117.1 L858.7 118.0 L860.3 118.8 L861.9 119.7 L863.6 120.6 L865.2 121.5 L866.8 122.4 L868.4 123.3 L870.0 124.3 L871.6 125.2 L873.2 126.2 L874.8 127.1 L876.4 128.1 L878.0 129.0 L879.6 129.9 L881.2 130.8 L882.8 131.7 L884.5 132.6 L886.1 133.4 L887.8 134.3 L889.4 135.2 L891.1 136.0 L892.7 136.9 L894.4 137.7 L896.0 138.6 L897.6 139.4 L899.3 140.3 L900.9 141.1 L902.6 142.0 L904.2 142.8 L905.9 143.7 L907.5 144.5 L909.2 145.4 L910.9 146.2 L912.5 147.0 L914.2 147.9 L915.8 148.7 L917.5 149.6 L919.1 150.4 L920.8 151.3 L922.4 152.1 L924.1 152.9 L925.7 153.8 L927.4 154.7 L929.0 155.5 L930.7 156.4 L932.3 157.2 L933.9 158.1 L935.6 159.0 L937.2 159.8 L938.9 160.7 L940.5 161.6 L942.1 162.5 L943.8 163.3 L945.4 164.2 L947.0 165.1 L948.7 166.0 L950.3 166.9 L951.9 167.7 L953.6 168.6 L955.2 169.5 L956.8 170.4 L958.4 171.3 L960.1 172.2 L961.7 173.0 L963.3 173.9 L965.0 174.8 L966.6 175.7 L968.2 176.6 L969.8 177.5 L971.5 178.4 L973.1 179.3 L974.7 180.2 L976.3 181.1 L978.0 182.0 L979.6 182.9 L981.2 183.8 L982.8 184.7 L984.4 185.6 L986.1 186.5 L987.7 187.4 L989.3 188.3 L990.9 189.2 L992.5 190.1 L994.2 191.0 L995.8 191.9 L997.4 192.8 L999.0 193.7 L1000.7 194.6 L1002.3 195.5 L1003.9 196.4 L1005.5 197.3 L1007.2 198.2 L1008.8 199.1 L1010.4 200.0 L1012.0 200.9 L1013.7 201.7 L1015.3 202.6 L1016.9 203.5 L1018.6 204.4 L1020.2 205.3 L1021.8 206.1 L1023.5 207.0 L1025.1 207.9 L1026.7 208.8 L1028.4 209.7 L1030.0 210.5 L1031.6 211.4 L1033.3 212.3 L1034.9 213.2 L1036.5 214.1 L1038.1 215.0 L1039.8 215.9 L1041.4 216.8 L1043.0 217.7 L1044.6 218.6 L1046.3 219.5 L1047.9 220.4 L1049.5 221.3 L1051.1 222.2 L1052.7 223.1 L1054.3 224.1 L1055.9 225.0 L1057.5 226.0 L1059.1 227.0 L1060.6 228.0 L1062.2 228.9 L1063.8 229.9 L1065.4 230.9 L1066.9 231.9 L1068.5 232.9 L1070.0 233.9 L1071.6 234.9 L1073.1 236.0 L1074.7 237.0 L1076.2 238.0 L1077.8 239.1 L1079.3 240.1 L1080.8 241.2 L1082.4 242.2 L1083.9 243.3 L1085.4 244.4 L1086.9 245.4 L1088.4 246.5 L1089.9 247.6 L1091.4 248.7 L1092.9 249.8 L1094.4 250.9 L1095.9 252.0 L1097.4 253.1 L1098.9 254.2 L1100.4 255.4 L1101.9 256.5 L1103.3 257.7 L1104.8 258.8 L1106.2 260.0 L1107.6 261.2 L1109.0 262.4 L1110.4 263.7 L1111.7 264.9 L1113.1 266.2 L1114.4 267.5 L1115.7 268.8 L1117.0 270.1 L1118.3 271.5 L1119.5 272.9 L1120.8 274.3 L1122.0 275.7 L1123.2 277.2 L1124.3 278.6 L1125.3 280.1 L1126.3 281.7 L1127.3 283.2 L1128.2 284.9 L1129.0 286.5 L1129.8 288.2 L1130.6 289.9 L1131.3 291.6 L1132.0 293.3 L1132.7 295.1 L1133.4 296.8 L1134.0 298.6 L1134.6 300.3 L1135.1 302.1 L1135.6 303.9 L1136.1 305.7 L1136.6 307.5 L1137.0 309.3 L1137.4 311.1 L1137.8 312.9 L1138.2 314.7 L1138.6 316.5 L1139.0 318.3 L1139.3 320.2 L1139.7 322.0 L1140.0 323.8 L1140.3 325.6 L1140.6 327.5 L1140.8 329.3 L1141.0 331.1 L1141.2 333.0 L1141.4 334.8 L1141.6 336.7 L1141.8 338.5 L1141.9 340.4 L1142.1 342.2 L1142.2 344.1 L1142.4 345.9 L1142.5 347.8 L1142.6 349.6 L1142.7 351.5 L1142.8 353.3 L1142.9 355.2 L1142.9 357.0 L1143.0 358.9 L1143.1 360.8 L1143.2 362.6 L1143.2 364.5 L1143.3 366.3 L1143.3 368.2 L1143.4 370.0 L1143.4 371.9 L1143.4 373.7 L1143.4 375.6 L1143.5 377.4 L1143.5 379.3 L1143.5 381.2 L1143.5 383.0 L1143.5 384.9 L1143.6 386.7 L1143.6 388.6 L1143.6 390.4 L1143.6 392.3 L1143.6 394.1 L1143.6 396.0" stroke="#46834a" stroke-width="3.86" />
<path d="M746.8 68.7 L748.2 69.2 L749.7 69.8 L751.1 70.4 L752.6 70.9 L754.0 71.5 L755.5 72.1 L756.9 72.6 L758.3 73.2 L759.8 73.8 L761.2 74.4 L762.7 75.0 L764.1 75.5 L765.5 76.1 L767.0 76.7 L768.4 77.3 L769.8 77.9 L771.3 78.5 L772.7 79.1 L774.1 79.7 L775.5 80.3 L777.0 80.9 L778.4 81.5 L779.8 82.1 L781.3 82.7 L782.7 83.3 L784.1 84.0 L785.5 84.6 L787.0 85.2 L788.4 85.8 L789.8 86.4 L791.2 87.1 L792.6 87.7 L794.0 88.3 L795.5 89.0 L796.9 89.6 L798.3 90.3 L799.7 90.9 L801.1 91.6 L802.5 92.2 L803.9 92.9 L805.3 93.6 L806.7 94.3 L808.1 94.9 L809.5 95.6 L810.8 96.3 L812.2 97.0 L813.6 97.7 L815.0 98.4 L816.4 99.1 L817.8 99.8 L819.2 100.5 L820.5 101.2 L821.9 101.9 L823.3 102.6 L824.7 103.3 L826.1 104.0 L827.4 104.7 L828.8 105.5 L830.2 106.2 L831.6 106.9 L833.0 107.6 L834.3 108.3 L835.7 109.0 L837.1 109.7 L838.5 110.4 L839.8 111.1 L841.2 111.9 L842.6 112.6 L844.0 113.3 L845.3 114.0 L846.7 114.7 L848.1 115.5 L849.4 116.2 L850.8 116.9 L852.2 117.7 L853.5 118.4 L854.9 119.2 L856.3 119.9 L857.6 120.7 L859.0 121.4 L860.3 122.2 L861.7 122.9 L863.0 123.7 L864.4 124.5 L865.7 125.3 L867.0 126.1 L868.3 126.9 L869.6 127.8 L870.9 128.6 L872.2 129.5 L873.5 130.4 L874.8 131.2 L876.0 132.1 L877.3 133.0 L878.6 133.8 L879.9 134.7 L881.2 135.5 L882.6 136.3 L883.9 137.1 L885.2 137.9 L886.6 138.7 L887.9 139.4 L889.3 140.2 L890.6 141.0 L892.0 141.8 L893.3 142.5 L894.7 143.3 L896.0 144.1 L897.3 144.9 L898.6 145.7 L900.0 146.5 L901.3 147.3 L902.5 148.2 L903.8 149.1 L905.1 149.9 L906.4 150.8 L907.6 151.7 L908.9 152.6 L910.1 153.5 L911.4 154.5 L912.6 155.4 L913.9 156.3 L915.1 157.3 L916.3 158.2 L917.6 159.2 L918.8 160.1 L920.0 161.1 L921.2 162.1 L922.4 163.0 L923.6 164.0 L924.9 165.0 L926.1 165.9 L927.3 166.9 L928.5 167.9 L929.7 168.9 L930.9 169.9 L932.0 170.9 L933.2 171.9 L934.4 172.9 L935.6 173.9 L936.8 174.9 L937.9 175.9 L939.1 176.9 L940.3 177.9 L941.4 179.0 L942.6 180.0 L943.8 181.0 L944.9 182.0 L946.1 183.1 L947.3 184.1 L948.4 185.1 L949.6 186.1 L950.8 187.2 L951.9 188.2 L953.1 189.2 L954.3 190.2 L955.4 191.3 L956.6 192.3 L957.8 193.3 L958.9 194.4 L960.1 195.4 L961.2 196.5 L962.3 197.5 L963.4 198.6 L964.5 199.7 L965.6 200.8 L966.6 201.9 L967.7 203.1 L968.7 204.3 L969.7 205.4 L970.7 206.6 L971.7 207.8 L972.7 209.0 L973.7 210.2 L974.8 211.3 L975.8 212.5 L976.9 213.6 L977.9 214.8 L978.9 216.0 L979.9 217.2 L980.8 218.4 L981.7 219.6 L982.7 220.9 L983.6 222.1 L984.5 223.4 L985.4 224.7 L986.3 226.0 L987.2 227.3 L988.0 228.6 L988.9 229.9 L989.7 231.2 L990.5 232.6 L991.2 233.9 L992.0 235.3 L992.7 236.6 L993.4 238.0 L994.0 239.4 L994.6 240.8 L995.3 242.2 L995.9 243.6 L996.5 245.1 L997.1 246.5 L997.6 248.0 L998.2 249.4 L998.7 250.9 L999.2 252.4 L999.6 253.9 L1000.1 255.4 L1000.5 256.9 L1000.9 258.4 L1001.2 259.9 L1001.5 261.4 L1001.9 262.9 L1002.2 264.4 L1002.5 265.9 L1002.7 267.5 L1003.0 269.0 L1003.3 270.5 L1003.5 272.1 L1003.7 273.6 L1003.9 275.1 L1004.1 276.7 L1004.3 278.2 L1004.4 279.8 L1004.6 281.3 L1004.7 282.9 L1004.8 284.4 L1004.9 285.9 L1005.0 287.5 L1005.1 289.0 L1005.2 290.6 L1005.3 292.1 L1005.3 293.7 L1005.4 295.2 L1005.5 296.8 L1005.6 298.3 L1005.7 299.9 L1005.7 301.4 L1005.8 303.0 L1005.9 304.5 L1006.0 306.1 L1006.0 307.6 L1006.1 309.2 L1006.2 310.7 L1006.3 312.3 L1006.3 313.8 L1006.4 315.4 L1006.5 316.9 L1006.5 318.5 L1006.6 320.0 L1006.6 321.6 L1006.7 323.1 L1006.7 324.7 L1006.7 326.2 L1006.8 327.8 L1006.8 329.3 L1006.8 330.9 L1006.8 332.4 L1006.8 334.0 L1006.9 335.5 L1006.9 337.1 L1006.9 338.6 L1006.9 340.2 L1006.9 341.7 L1006.9 343.3 L1007.0 344.8 L1007.0 346.4 L1007.0 347.9 L1007.0 349.5 L1007.0 351.0 L1007.0 352.6 L1007.0 354.1 L1007.0 355.7 L1007.1 357.2 L1007.1 358.8 L1007.1 360.3 L1007.1 361.9 L1007.1 363.4 L1007.1 365.0 L1007.1 366.5 L1007.1 368.1 L1007.1 369.6 L1007.1 371.2 L1007.1 372.7 L1007.2 374.3 L1007.2 375.8 L1007.2 377.4 L1007.2 378.9 L1007.2 380.5 L1007.2 382.0 L1007.2 383.6 L1007.2 385.1 L1007.2 386.7 L1007.2 388.2 L1007.2 389.8 L1007.2 391.3 L1007.2 392.9 L1007.2 394.4 L1007.2 396.0" stroke="#3e4ea2" stroke-width="3.86" />
<path d="M747.6 84.0 L746.8 68.7 L748.1 69.4 L749.3 70.1 L750.6 70.8 L751.9 71.5 L753.1 72.3 L754.4 73.0 L755.7 73.7 L756.9 74.4 L758.2 75.1 L759.5 75.8 L760.8 76.5 L762.0 77.1 L763.3 77.8 L764.6 78.5 L765.9 79.2 L767.1 79.9 L768.4 80.6 L769.7 81.2 L771.0 81.9 L772.3 82.6 L773.6 83.2 L774.9 83.9 L776.2 84.5 L777.5 85.2 L778.8 85.8 L780.1 86.5 L781.4 87.1 L782.7 87.8 L784.0 88.4 L785.3 89.1 L786.6 89.7 L787.9 90.3 L789.2 91.0 L790.5 91.6 L791.8 92.2 L793.1 92.9 L794.4 93.5 L795.7 94.2 L797.0 94.8 L798.3 95.4 L799.6 96.1 L800.9 96.7 L802.2 97.4 L803.5 98.0 L804.8 98.7 L806.1 99.3 L807.4 99.9 L808.7 100.6 L810.0 101.2 L811.3 101.9 L812.6 102.5 L813.9 103.1 L815.2 103.8 L816.5 104.4 L817.8 105.1 L819.1 105.7 L820.4 106.4 L821.7 107.0 L823.0 107.6 L824.3 108.3 L825.6 108.9 L826.9 109.6 L828.2 110.3 L829.5 110.9 L830.8 111.6 L832.1 112.2 L833.4 112.9 L834.7 113.5 L836.0 114.2 L837.3 114.9 L838.6 115.5 L839.9 116.2 L841.2 116.8 L842.5 117.5 L843.7 118.2 L845.0 118.9 L846.3 119.5 L847.6 120.2 L848.9 120.9 L850.1 121.6 L851.4 122.3 L852.7 123.0 L853.9 123.8 L855.2 124.5 L856.4 125.2 L857.7 126.0 L858.9 126.7 L860.2 127.5 L861.4 128.2 L862.6 129.0 L863.9 129.7 L865.1 130.5 L866.3 131.3 L867.5 132.1 L868.8 132.9 L870.0 133.7 L871.2 134.5 L872.4 135.3 L873.6 136.1 L874.8 136.9 L876.0 137.7 L877.2 138.5 L878.4 139.3 L879.6 140.1 L880.8 141.0 L882.0 141.8 L883.2 142.6 L884.4 143.5 L885.6 144.3 L886.8 145.1 L888.0 146.0 L889.2 146.8 L890.4 147.7 L891.5 148.5 L892.7 149.4 L893.9 150.3 L895.0 151.1 L896.2 152.0 L897.3 152.9 L898.5 153.8 L899.6 154.7 L900.7 155.7 L901.8 156.6 L902.9 157.5 L903.9 158.5 L905.0 159.5 L906.1 160.4 L907.1 161.4 L908.2 162.4 L909.2 163.4 L910.3 164.5 L911.3 165.5 L912.3 166.5 L913.4 167.6 L914.4 168.6 L915.4 169.7 L916.4 170.7 L917.4 171.8 L918.4 172.9 L919.3 174.0 L920.3 175.1 L921.2 176.2 L922.2 177.3 L923.1 178.4 L924.0 179.5 L924.9 180.6 L925.8 181.8 L926.7 182.9 L927.6 184.0 L928.5 185.2 L929.3 186.4 L930.2 187.6 L931.0 188.7 L931.8 189.9 L932.6 191.2 L933.5 192.4 L934.3 193.6 L935.0 194.8 L935.8 196.1 L936.6 197.3 L937.3 198.5 L938.1 199.8 L938.8 201.0 L939.5 202.3 L940.3 203.5 L941.0 204.8 L941.8 206.1 L942.5 207.3 L943.2 208.6 L943.9 209.9 L944.5 211.2 L945.1 212.6 L945.6 213.9 L946.1 215.2 L946.5 216.6 L947.0 218.0 L947.4 219.3 L947.8 220.7 L948.2 222.1 L948.5 223.6 L948.9 225.0 L949.2 226.4 L949.5 227.8 L949.8 229.3 L950.1 230.7 L950.3 232.1 L950.5 233.6 L950.7 235.0 L950.9 236.4 L951.1 237.9 L951.3 239.3 L951.5 240.7 L951.7 242.2 L951.9 243.6 L952.0 245.1 L952.2 246.5 L952.3 248.0 L952.4 249.4 L952.6 250.9 L952.7 252.3 L952.8 253.8 L952.8 255.2 L952.9 256.7 L953.0 258.1 L953.0 259.6 L953.1 261.0 L953.1 262.5 L953.2 263.9 L953.2 265.4 L953.2 266.8 L953.3 268.3 L953.3 269.7 L953.4 271.2 L953.4 272.6 L953.4 274.1 L953.5 275.5 L953.5 277.0 L953.5 278.4 L953.6 279.9 L953.6 281.3 L953.6 282.8 L953.7 284.2 L953.7 285.7 L953.7 287.1 L953.7 288.6 L953.7 290.0 L953.7 291.5 L953.8 292.9 L953.8 294.4 L953.8 295.9 L953.8 297.3 L953.8 298.8 L953.8 300.2 L953.8 301.7 L953.8 303.1 L953.8 304.6 L953.8 306.0 L953.8 307.5 L953.8 308.9 L953.8 310.4 L953.8 311.8 L953.8 313.3 L953.8 314.7 L953.8 316.2 L953.8 317.6 L953.8 319.1 L953.8 320.5 L953.8 322.0 L953.8 323.4 L953.8 324.9 L953.8 326.3 L953.9 327.8 L953.9 329.2 L953.9 330.7 L953.9 332.1 L953.9 333.6 L953.9 335.0 L953.9 336.5 L953.9 337.9 L953.9 339.4 L953.9 340.8 L953.9 342.3 L953.9 343.7 L953.9 345.2 L953.9 346.6 L953.9 348.1 L953.9 349.6 L953.9 351.0 L953.9 352.5 L953.9 353.9 L953.9 355.4 L953.9 356.8 L953.9 358.3 L953.9 359.7 L953.9 361.2 L953.9 362.6 L953.9 364.1 L953.9 365.5 L953.9 367.0 L953.9 368.4 L953.9 369.9 L953.9 371.3 L953.9 372.8 L953.9 374.2 L953.9 375.7 L953.9 377.1 L953.9 378.6 L953.9 380.0 L953.9 381.5 L953.9 382.9 L953.9 384.4 L953.9 385.8 L953.9 387.3 L953.9 388.7 L953.9 390.2 L953.9 391.6 L953.9 393.1 L953.9 394.5 L953.9 396.0" stroke="#64b9bb" stroke-width="3.86" />
<path d="M748.0 69.6 L748.8 69.6 L749.6 70.6 L750.4 70.4 L751.2 71.6 L752.0 71.2 L752.8 72.6 L753.6 72.0 L754.4 73.5 L755.2 72.8 L756.0 74.5 L756.8 73.6 L757.6 75.5 L758.4 74.4 L759.2 76.5 L760.0 75.1 L760.8 77.4 L761.6 76.0 L762.4 78.2 L763.2 76.9 L764.0 79.1 L764.8 77.7 L765.6 80.0 L766.4 78.6 L767.2 80.8 L768.0 79.4 L768.8 81.7 L769.6 80.3 L770.4 82.5 L771.2 81.1 L772.0 83.3 L772.8 81.9 L773.6 84.1 L774.4 82.7 L775.2 85.0 L776.0 83.6 L776.8 85.8 L777.6 84.4 L778.4 86.6 L779.2 85.2 L780.0 87.4 L780.8 86.0 L781.6 88.2 L782.4 86.7 L783.2 88.9 L784.0 87.5 L784.8 89.7 L785.6 88.3 L786.4 90.5 L787.2 89.1 L788.0 91.3 L788.8 89.9 L789.6 92.1 L790.4 90.7 L791.2 92.9 L792.0 91.4 L792.8 93.6 L793.6 92.2 L794.4 94.4 L795.2 93.0 L796.0 95.2 L796.8 93.8 L797.6 96.0 L798.4 94.6 L799.2 96.8 L800.0 95.4 L800.8 97.6 L801.6 96.2 L802.4 98.4 L803.2 97.0 L804.0 99.2 L804.8 97.7 L805.6 99.9 L806.4 98.5 L807.2 100.7 L808.0 99.3 L808.8 101.5 L809.6 100.1 L810.4 102.3 L811.2 100.9 L812.0 103.1 L812.8 101.7 L813.6 103.9 L814.4 102.5 L815.2 104.7 L816.0 103.3 L816.8 105.5 L817.6 104.0 L818.4 106.2 L819.2 104.8 L820.0 107.0 L820.8 105.6 L821.6 107.8 L822.4 106.4 L823.2 108.6 L824.0 107.2 L824.8 109.4 L825.6 108.0 L826.4 110.2 L827.2 108.8 L828.0 111.0 L828.8 109.7 L829.6 111.9 L830.4 110.5 L831.2 112.7 L832.0 111.3 L832.8 113.5 L833.6 112.1 L834.4 114.3 L835.2 112.9 L836.0 115.1 L836.8 113.7 L837.6 115.9 L838.4 114.5 L839.2 116.7 L840.0 115.3 L840.8 117.6 L841.6 116.2 L842.4 118.4 L843.2 117.0 L844.0 119.2 L844.8 117.8 L845.6 120.1 L846.4 118.7 L847.2 120.9 L848.0 119.5 L848.8 121.8 L849.6 120.4 L850.4 122.7 L851.2 121.3 L852.0 123.6 L852.8 122.2 L853.6 124.5 L854.4 123.1 L855.2 125.4 L856.0 124.1 L856.8 126.3 L857.6 125.0 L858.4 127.3 L859.2 126.0 L860.0 128.3 L860.8 126.9 L861.6 129.2 L862.4 127.9 L863.2 130.2 L864.0 128.9 L864.8 131.2 L865.6 129.9 L866.4 132.3 L867.2 131.0 L868.0 133.3 L868.8 132.0 L869.6 134.3 L870.4 133.1 L871.2 135.3 L872.0 134.2 L872.8 136.3 L873.6 135.3 L874.4 137.3 L875.2 136.4 L876.0 138.4 L876.8 137.5 L877.6 139.4 L878.4 138.7 L879.2 140.4 L880.0 139.8 L880.8 141.5 L881.6 141.0 L882.4 142.5 L883.2 142.2 L884.0 143.6 L884.8 143.4 L885.6 144.7 L886.4 144.6 L887.2 145.8 L888.0 145.8 L888.8 146.9 L889.6 147.1 L890.4 148.1 L891.2 148.3 L892.0 149.2 L892.8 149.6 L893.6 150.4 L894.4 150.8 L895.2 151.5" stroke="#64b9bb" stroke-width="3.86" />
<path d="M746.8 70.5 L1262.7 312.8" stroke="#000" stroke-width="3.95" stroke-dasharray="8.6 6.77"/>
</g>
<g fill="none">
<path d="M119.2 165.40H192.0" stroke="#cc2228" stroke-width="3.86"/>
<path d="M119.2 199.73H192.0" stroke="#46834a" stroke-width="3.86"/>
<path d="M119.2 234.06H192.0" stroke="#3e4ea2" stroke-width="3.86"/>
<path d="M119.2 268.39H192.0" stroke="#64b9bb" stroke-width="3.86"/>
<path d="M119.2 302.72H192.0" stroke="#babd40" stroke-width="3.86"/>
<path d="M119.2 337.05H192.0" stroke="#8e378f" stroke-width="3.86"/>
<path d="M119.2 371.38H192.0" stroke="#000000" stroke-width="3.95"/>
<path d="M1019.0 63.30H1092.0" stroke="#cc2228" stroke-width="3.86"/>
<path d="M1019.0 97.65H1092.0" stroke="#46834a" stroke-width="3.86"/>
<path d="M1019.0 132.00H1092.0" stroke="#3e4ea2" stroke-width="3.86"/>
<path d="M1019.0 166.35H1092.0" stroke="#64b9bb" stroke-width="3.86"/>
</g>
<g fill="#000">
<text transform="translate(0 440.66) scale(0.9679 1.0195)" x="190.41 210.66" y="0" style='font-family:"Liberation Serif",serif;font-size:38.50px;stroke:#fff;stroke-width:0.20px'>10</text>
<text transform="translate(0 428.29) scale(1.4529 0.9851)" x="154.04" y="0" style='font-family:"Liberation Serif",serif;font-size:26.95px;stroke:#fff;stroke-width:0.14px'>−</text>
<text transform="translate(0 426.50) scale(1.1136 1.0181)" x="221.75" y="0" style='font-family:"Liberation Serif",serif;font-size:26.95px;stroke:#fff;stroke-width:0.14px'>3</text>
<text transform="translate(0 440.66) scale(0.9679 1.0195)" x="369.78 390.02" y="0" style='font-family:"Liberation Serif",serif;font-size:38.50px;stroke:#fff;stroke-width:0.20px'>10</text>
<text transform="translate(0 428.29) scale(1.4529 0.9851)" x="273.52" y="0" style='font-family:"Liberation Serif",serif;font-size:26.95px;stroke:#fff;stroke-width:0.14px'>−</text>
<text transform="translate(0 426.23) scale(1.0337 1.0059)" x="407.28" y="0" style='font-family:"Liberation Serif",serif;font-size:26.95px;stroke:#fff;stroke-width:0.14px'>1</text>
<text transform="translate(0 440.66) scale(0.9679 1.0195)" x="561.58 581.82" y="0" style='font-family:"Liberation Serif",serif;font-size:38.50px;stroke:#fff;stroke-width:0.20px'>10</text>
<text transform="translate(0 426.23) scale(1.0337 1.0059)" x="563.59" y="0" style='font-family:"Liberation Serif",serif;font-size:26.95px;stroke:#fff;stroke-width:0.14px'>1</text>
<text transform="translate(0 39.56) scale(0.9679 1.0195)" x="21.23 41.48" y="0" style='font-family:"Liberation Serif",serif;font-size:38.50px;stroke:#fff;stroke-width:0.20px'>10</text>
<text transform="translate(0 25.40) scale(1.1136 1.0181)" x="53.09" y="0" style='font-family:"Liberation Serif",serif;font-size:26.95px;stroke:#fff;stroke-width:0.14px'>3</text>
<text transform="translate(0 141.12) scale(0.9679 1.0195)" x="21.23 41.48" y="0" style='font-family:"Liberation Serif",serif;font-size:38.50px;stroke:#fff;stroke-width:0.20px'>10</text>
<text transform="translate(0 126.69) scale(1.0337 1.0059)" x="57.65" y="0" style='font-family:"Liberation Serif",serif;font-size:26.95px;stroke:#fff;stroke-width:0.14px'>1</text>
<text transform="translate(0 242.68) scale(0.9679 1.0195)" x="-3.63 16.62" y="0" style='font-family:"Liberation Serif",serif;font-size:38.50px;stroke:#fff;stroke-width:0.20px'>10</text>
<text transform="translate(0 230.31) scale(1.4529 0.9851)" x="24.78" y="0" style='font-family:"Liberation Serif",serif;font-size:26.95px;stroke:#fff;stroke-width:0.14px'>−</text>
<text transform="translate(0 228.25) scale(1.0337 1.0059)" x="57.65" y="0" style='font-family:"Liberation Serif",serif;font-size:26.95px;stroke:#fff;stroke-width:0.14px'>1</text>
<text transform="translate(0 344.24) scale(0.9679 1.0195)" x="-3.63 16.62" y="0" style='font-family:"Liberation Serif",serif;font-size:38.50px;stroke:#fff;stroke-width:0.20px'>10</text>
<text transform="translate(0 331.87) scale(1.4529 0.9851)" x="24.78" y="0" style='font-family:"Liberation Serif",serif;font-size:26.95px;stroke:#fff;stroke-width:0.14px'>−</text>
<text transform="translate(0 330.08) scale(1.1136 1.0181)" x="53.09" y="0" style='font-family:"Liberation Serif",serif;font-size:26.95px;stroke:#fff;stroke-width:0.14px'>3</text>
<text transform="translate(0 440.50) scale(0.9815 1.0129)" x="735.97 756.05 766.47" y="0" style='font-family:"Liberation Serif",serif;font-size:38.50px;stroke:#fff;stroke-width:0.20px'>0.0</text>
<text transform="translate(0 440.49) scale(0.9808 1.0173)" x="869.38 889.27 899.33" y="0" style='font-family:"Liberation Serif",serif;font-size:38.50px;stroke:#fff;stroke-width:0.20px'>2.5</text>
<text transform="translate(0 440.50) scale(0.9802 1.0129)" x="1002.18 1022.66 1033.10" y="0" style='font-family:"Liberation Serif",serif;font-size:38.50px;stroke:#fff;stroke-width:0.20px'>5.0</text>
<text transform="translate(0 440.48) scale(1.0086 1.0434)" x="1103.17 1122.76 1132.41" y="0" style='font-family:"Liberation Serif",serif;font-size:38.50px;stroke:#fff;stroke-width:0.20px'>7.5</text>
<text transform="translate(0 440.50) scale(0.9697 1.0129)" x="1271.61 1291.81 1312.09 1322.69" y="0" style='font-family:"Liberation Serif",serif;font-size:38.50px;stroke:#fff;stroke-width:0.20px'>10.0</text>
<text transform="translate(0 94.56) scale(0.9679 1.0195)" x="698.35 718.59" y="0" style='font-family:"Liberation Serif",serif;font-size:38.50px;stroke:#fff;stroke-width:0.20px'>10</text>
<text transform="translate(0 80.40) scale(1.0946 1.0137)" x="652.98" y="0" style='font-family:"Liberation Serif",serif;font-size:26.95px;stroke:#fff;stroke-width:0.14px'>0</text>
<text transform="translate(0 207.16) scale(0.9679 1.0195)" x="673.49 693.73" y="0" style='font-family:"Liberation Serif",serif;font-size:38.50px;stroke:#fff;stroke-width:0.20px'>10</text>
<text transform="translate(0 194.79) scale(1.4529 0.9851)" x="475.83" y="0" style='font-family:"Liberation Serif",serif;font-size:26.95px;stroke:#fff;stroke-width:0.14px'>−</text>
<text transform="translate(0 192.73) scale(1.1027 1.0029)" x="648.29" y="0" style='font-family:"Liberation Serif",serif;font-size:26.95px;stroke:#fff;stroke-width:0.14px'>2</text>
<text transform="translate(0 319.76) scale(0.9679 1.0195)" x="673.49 693.73" y="0" style='font-family:"Liberation Serif",serif;font-size:38.50px;stroke:#fff;stroke-width:0.20px'>10</text>
<text transform="translate(0 307.39) scale(1.4529 0.9851)" x="475.83" y="0" style='font-family:"Liberation Serif",serif;font-size:26.95px;stroke:#fff;stroke-width:0.14px'>−</text>
<text transform="translate(0 305.33) scale(1.0541 1.0241)" x="678.25" y="0" style='font-family:"Liberation Serif",serif;font-size:26.95px;stroke:#fff;stroke-width:0.14px'>4</text>
<text transform="translate(0 177.69) scale(1.0966 0.8410)" x="198.26" y="0" style='font-family:"Liberation Serif",serif;font-size:34.65px;font-style:italic;stroke:#fff;stroke-width:0.18px'>σ</text>
<text transform="translate(0 180.29) scale(1.4697 0.9881)" x="168.83" y="0" style='font-family:"Liberation Serif",serif;font-size:34.65px;stroke:#fff;stroke-width:0.18px'>=</text>
<text transform="translate(0 177.60) scale(0.9631 1.0088)" x="297.56" y="0" style='font-family:"Liberation Serif",serif;font-size:34.65px;stroke:#fff;stroke-width:0.18px'>1</text>
<text transform="translate(0 212.02) scale(1.0966 0.8410)" x="198.26" y="0" style='font-family:"Liberation Serif",serif;font-size:34.65px;font-style:italic;stroke:#fff;stroke-width:0.18px'>σ</text>
<text transform="translate(0 214.62) scale(1.4697 0.9881)" x="168.83" y="0" style='font-family:"Liberation Serif",serif;font-size:34.65px;stroke:#fff;stroke-width:0.18px'>=</text>
<text transform="translate(0 211.93) scale(1.0255 1.0058)" x="279.37" y="0" style='font-family:"Liberation Serif",serif;font-size:34.65px;stroke:#fff;stroke-width:0.18px'>2</text>
<text transform="translate(0 246.35) scale(1.0966 0.8410)" x="198.26" y="0" style='font-family:"Liberation Serif",serif;font-size:34.65px;font-style:italic;stroke:#fff;stroke-width:0.18px'>σ</text>
<text transform="translate(0 248.95) scale(1.4697 0.9881)" x="168.83" y="0" style='font-family:"Liberation Serif",serif;font-size:34.65px;stroke:#fff;stroke-width:0.18px'>=</text>
<text transform="translate(0 246.67) scale(1.0205 1.0352)" x="280.25" y="0" style='font-family:"Liberation Serif",serif;font-size:34.65px;stroke:#fff;stroke-width:0.18px'>5</text>
<text transform="translate(0 280.68) scale(1.0966 0.8410)" x="198.26" y="0" style='font-family:"Liberation Serif",serif;font-size:34.65px;font-style:italic;stroke:#fff;stroke-width:0.18px'>σ</text>
<text transform="translate(0 283.28) scale(1.4697 0.9881)" x="168.83" y="0" style='font-family:"Liberation Serif",serif;font-size:34.65px;stroke:#fff;stroke-width:0.18px'>=</text>
<text transform="translate(0 281.01) scale(0.9950 1.0195)" x="287.71 305.88" y="0" style='font-family:"Liberation Serif",serif;font-size:34.65px;stroke:#fff;stroke-width:0.18px'>10</text>
<text transform="translate(0 315.01) scale(1.0966 0.8410)" x="198.26" y="0" style='font-family:"Liberation Serif",serif;font-size:34.65px;font-style:italic;stroke:#fff;stroke-width:0.18px'>σ</text>
<text transform="translate(0 317.61) scale(1.4697 0.9881)" x="168.83" y="0" style='font-family:"Liberation Serif",serif;font-size:34.65px;stroke:#fff;stroke-width:0.18px'>=</text>
<text transform="translate(0 315.34) scale(0.9937 1.0269)" x="288.10 305.96" y="0" style='font-family:"Liberation Serif",serif;font-size:34.65px;stroke:#fff;stroke-width:0.18px'>15</text>
<text transform="translate(0 349.34) scale(1.0966 0.8410)" x="198.26" y="0" style='font-family:"Liberation Serif",serif;font-size:34.65px;font-style:italic;stroke:#fff;stroke-width:0.18px'>σ</text>
<text transform="translate(0 351.94) scale(1.4697 0.9881)" x="168.83" y="0" style='font-family:"Liberation Serif",serif;font-size:34.65px;stroke:#fff;stroke-width:0.18px'>=</text>
<text transform="translate(0 349.67) scale(1.0235 1.0195)" x="279.94 297.14" y="0" style='font-family:"Liberation Serif",serif;font-size:34.65px;stroke:#fff;stroke-width:0.18px'>20</text>
<text transform="translate(0 383.75) scale(0.8680 0.9645)" x="248.97 270.87 289.88 311.87 321.42 341.82 355.41 364.48" y="0" style='font-family:"Liberation Sans",sans-serif;font-size:34.65px;stroke:#000;stroke-width:0.5px'>analytic</text>
<text transform="translate(0 75.49) scale(1.0966 0.8410)" x="1019.04" y="0" style='font-family:"Liberation Serif",serif;font-size:34.65px;font-style:italic;stroke:#fff;stroke-width:0.18px'>σ</text>
<text transform="translate(0 78.09) scale(1.4697 0.9881)" x="781.27" y="0" style='font-family:"Liberation Serif",serif;font-size:34.65px;stroke:#fff;stroke-width:0.18px'>=</text>
<text transform="translate(0 75.67) scale(1.0119 1.0129)" x="1172.51 1190.51 1199.88 1217.14" y="0" style='font-family:"Liberation Serif",serif;font-size:34.65px;stroke:#fff;stroke-width:0.18px'>0.05</text>
<text transform="translate(0 109.84) scale(1.0966 0.8410)" x="1019.04" y="0" style='font-family:"Liberation Serif",serif;font-size:34.65px;font-style:italic;stroke:#fff;stroke-width:0.18px'>σ</text>
<text transform="translate(0 112.44) scale(1.4697 0.9881)" x="781.27" y="0" style='font-family:"Liberation Serif",serif;font-size:34.65px;stroke:#fff;stroke-width:0.18px'>=</text>
<text transform="translate(0 110.02) scale(0.9843 1.0129)" x="1205.69 1224.08 1233.56" y="0" style='font-family:"Liberation Serif",serif;font-size:34.65px;stroke:#fff;stroke-width:0.18px'>0.1</text>
<text transform="translate(0 144.19) scale(1.0966 0.8410)" x="1019.04" y="0" style='font-family:"Liberation Serif",serif;font-size:34.65px;font-style:italic;stroke:#fff;stroke-width:0.18px'>σ</text>
<text transform="translate(0 146.79) scale(1.4697 0.9881)" x="781.27" y="0" style='font-family:"Liberation Serif",serif;font-size:34.65px;stroke:#fff;stroke-width:0.18px'>=</text>
<text transform="translate(0 144.37) scale(1.0129 1.0129)" x="1171.34 1189.33 1198.88 1215.93" y="0" style='font-family:"Liberation Serif",serif;font-size:34.65px;stroke:#fff;stroke-width:0.18px'>0.25</text>
<text transform="translate(0 178.54) scale(1.0966 0.8410)" x="1019.04" y="0" style='font-family:"Liberation Serif",serif;font-size:34.65px;font-style:italic;stroke:#fff;stroke-width:0.18px'>σ</text>
<text transform="translate(0 181.14) scale(1.4697 0.9881)" x="781.27" y="0" style='font-family:"Liberation Serif",serif;font-size:34.65px;stroke:#fff;stroke-width:0.18px'>=</text>
<text transform="translate(0 178.72) scale(1.0076 1.0129)" x="1177.57 1195.63 1204.72" y="0" style='font-family:"Liberation Serif",serif;font-size:34.65px;stroke:#fff;stroke-width:0.18px'>0.5</text>
<text transform="translate(0 43.85) scale(1.1515 1.1578)" x="83.26" y="0" style='font-family:"DejaVu Serif","DejaVu Sans",serif;font-size:38.50px;stroke:#fff;stroke-width:1.15px'>⟨</text>
<text transform="translate(0 39.50) scale(1.1416 1.0385)" x="98.87" y="0" style='font-family:"Liberation Serif",serif;font-size:38.50px;font-style:italic;stroke:#fff;stroke-width:0.20px'>F</text>
<text transform="translate(0 40.09) scale(0.9028 1.1029)" x="159.02" y="0" style='font-family:"Liberation Serif",serif;font-size:38.50px;stroke:#fff;stroke-width:0.20px'>(</text>
<text transform="translate(0 39.50) scale(1.2092 1.1120)" x="128.25" y="0" style='font-family:"Liberation Serif",serif;font-size:38.50px;font-style:italic;stroke:#fff;stroke-width:0.20px'>t</text>
<text transform="translate(0 40.09) scale(0.9034 1.1029)" x="189.53" y="0" style='font-family:"Liberation Serif",serif;font-size:38.50px;stroke:#fff;stroke-width:0.20px'>)</text>
<text transform="translate(0 39.50) scale(1.1416 1.0385)" x="163.64" y="0" style='font-family:"Liberation Serif",serif;font-size:38.50px;font-style:italic;stroke:#fff;stroke-width:0.20px'>F</text>
<text transform="translate(0 40.09) scale(0.9028 1.1029)" x="240.93" y="0" style='font-family:"Liberation Serif",serif;font-size:38.50px;stroke:#fff;stroke-width:0.20px'>(</text>
<text transform="translate(0 39.96) scale(0.9932 1.0195)" x="231.83" y="0" style='font-family:"Liberation Serif",serif;font-size:38.50px;stroke:#fff;stroke-width:0.20px'>0</text>
<text transform="translate(0 40.09) scale(0.9034 1.1029)" x="277.31" y="0" style='font-family:"Liberation Serif",serif;font-size:38.50px;stroke:#fff;stroke-width:0.20px'>)</text>
<text transform="translate(0 43.85) scale(1.1515 1.1578)" x="227.87" y="0" style='font-family:"DejaVu Serif","DejaVu Sans",serif;font-size:38.50px;stroke:#fff;stroke-width:1.15px'>⟩</text>
<text transform="translate(0 48.81) scale(1.4471 1.5143)" x="194.36" y="0" style='font-family:"Liberation Serif",serif;font-size:38.50px;stroke:#fff;stroke-width:0.55px'>/</text>
<text transform="translate(0 39.42) scale(1.0638 1.0399)" x="282.62" y="0" style='font-family:"Liberation Serif",serif;font-size:38.50px;font-style:italic;stroke:#fff;stroke-width:0.20px'>D</text>
<text transform="translate(0 45.29) scale(1.1789 0.9376)" x="280.96" y="0" style='font-family:"Liberation Serif",serif;font-size:26.95px;font-style:italic;stroke:#fff;stroke-width:0.14px'>a</text>
<text transform="translate(0 382.50) scale(1.2092 1.1120)" x="401.94" y="0" style='font-family:"Liberation Serif",serif;font-size:38.50px;font-style:italic;stroke:#fff;stroke-width:0.20px'>t</text>
<text transform="translate(0 382.42) scale(1.0638 1.0399)" x="472.94" y="0" style='font-family:"Liberation Serif",serif;font-size:38.50px;font-style:italic;stroke:#fff;stroke-width:0.20px'>D</text>
<text transform="translate(0 388.29) scale(1.1789 0.9376)" x="452.70" y="0" style='font-family:"Liberation Serif",serif;font-size:26.95px;font-style:italic;stroke:#fff;stroke-width:0.14px'>a</text>
<text transform="translate(0 391.81) scale(1.4471 1.5143)" x="382.47" y="0" style='font-family:"Liberation Serif",serif;font-size:38.50px;stroke:#fff;stroke-width:0.55px'>/</text>
<text transform="translate(0 382.60) scale(1.0686 0.8410)" x="534.45" y="0" style='font-family:"Liberation Serif",serif;font-size:38.50px;font-style:italic;stroke:#fff;stroke-width:0.20px'>σ</text>
<text transform="translate(0 368.53) scale(1.1027 1.0029)" x="539.27" y="0" style='font-family:"Liberation Serif",serif;font-size:26.95px;stroke:#fff;stroke-width:0.14px'>2</text>
<text transform="translate(0 48.65) scale(1.1515 1.1578)" x="652.44" y="0" style='font-family:"DejaVu Serif","DejaVu Sans",serif;font-size:38.50px;stroke:#fff;stroke-width:1.15px'>⟨</text>
<text transform="translate(0 44.30) scale(1.1416 1.0385)" x="672.95" y="0" style='font-family:"Liberation Serif",serif;font-size:38.50px;font-style:italic;stroke:#fff;stroke-width:0.20px'>F</text>
<text transform="translate(0 44.89) scale(0.9028 1.1029)" x="884.97" y="0" style='font-family:"Liberation Serif",serif;font-size:38.50px;stroke:#fff;stroke-width:0.20px'>(</text>
<text transform="translate(0 44.30) scale(1.2092 1.1120)" x="670.25" y="0" style='font-family:"Liberation Serif",serif;font-size:38.50px;font-style:italic;stroke:#fff;stroke-width:0.20px'>t</text>
<text transform="translate(0 44.89) scale(0.9034 1.1029)" x="915.00" y="0" style='font-family:"Liberation Serif",serif;font-size:38.50px;stroke:#fff;stroke-width:0.20px'>)</text>
<text transform="translate(0 44.30) scale(1.1416 1.0385)" x="737.73" y="0" style='font-family:"Liberation Serif",serif;font-size:38.50px;font-style:italic;stroke:#fff;stroke-width:0.20px'>F</text>
<text transform="translate(0 44.89) scale(0.9028 1.1029)" x="966.88" y="0" style='font-family:"Liberation Serif",serif;font-size:38.50px;stroke:#fff;stroke-width:0.20px'>(</text>
<text transform="translate(0 44.76) scale(0.9932 1.0195)" x="891.73" y="0" style='font-family:"Liberation Serif",serif;font-size:38.50px;stroke:#fff;stroke-width:0.20px'>0</text>
<text transform="translate(0 44.89) scale(0.9034 1.1029)" x="1002.77" y="0" style='font-family:"Liberation Serif",serif;font-size:38.50px;stroke:#fff;stroke-width:0.20px'>)</text>
<text transform="translate(0 48.65) scale(1.1515 1.1578)" x="797.05" y="0" style='font-family:"DejaVu Serif","DejaVu Sans",serif;font-size:38.50px;stroke:#fff;stroke-width:1.15px'>⟩</text>
<text transform="translate(0 53.61) scale(1.4471 1.5143)" x="647.27" y="0" style='font-family:"Liberation Serif",serif;font-size:38.50px;stroke:#fff;stroke-width:0.55px'>/</text>
<text transform="translate(0 44.89) scale(0.9028 1.1029)" x="1059.28" y="0" style='font-family:"Liberation Serif",serif;font-size:38.50px;stroke:#fff;stroke-width:0.20px'>(</text>
<text transform="translate(0 44.36) scale(1.0203 0.9663)" x="950.31" y="0" style='font-family:"Liberation Serif",serif;font-size:38.50px;font-style:italic;stroke:#fff;stroke-width:0.20px'>v</text>
<text transform="translate(0 30.33) scale(1.1027 1.0029)" x="897.34" y="0" style='font-family:"Liberation Serif",serif;font-size:26.95px;stroke:#fff;stroke-width:0.14px'>2</text>
<text transform="translate(0 44.40) scale(1.0686 0.8410)" x="941.99" y="0" style='font-family:"Liberation Serif",serif;font-size:38.50px;font-style:italic;stroke:#fff;stroke-width:0.20px'>σ</text>
<text transform="translate(0 30.33) scale(1.1027 1.0029)" x="934.20" y="0" style='font-family:"Liberation Serif",serif;font-size:26.95px;stroke:#fff;stroke-width:0.14px'>2</text>
<text transform="translate(0 44.89) scale(0.9034 1.1029)" x="1160.10" y="0" style='font-family:"Liberation Serif",serif;font-size:38.50px;stroke:#fff;stroke-width:0.20px'>)</text>
<text transform="translate(0 250.29) scale(0.9566 1.0202)" x="1162.41 1183.25 1193.70" y="0" style='font-family:"Liberation Serif",serif;font-size:38.50px;stroke:#fff;stroke-width:0.20px'>1.5</text>
<text transform="translate(0 250.07) scale(0.9832 0.9418)" x="1181.55" y="0" style='font-family:"Liberation Serif",serif;font-size:38.50px;font-style:italic;stroke:#fff;stroke-width:0.20px'>e</text>
<text transform="translate(0 238.09) scale(1.4529 0.9851)" x="812.14" y="0" style='font-family:"Liberation Serif",serif;font-size:26.95px;stroke:#fff;stroke-width:0.14px'>−</text>
<text transform="translate(0 236.01) scale(1.3311 1.1087)" x="903.51" y="0" style='font-family:"Liberation Serif",serif;font-size:26.95px;font-style:italic;stroke:#fff;stroke-width:0.14px'>t</text>
<text transform="translate(0 236.04) scale(1.1322 0.9643)" x="1073.66" y="0" style='font-family:"Liberation Serif",serif;font-size:26.95px;font-style:italic;stroke:#fff;stroke-width:0.14px'>v</text>
<text transform="translate(0 242.62) scale(1.6145 1.5226)" x="763.66" y="0" style='font-family:"Liberation Serif",serif;font-size:26.95px;stroke:#fff;stroke-width:0.40px'>/</text>
<text transform="translate(0 236.08) scale(1.1692 0.8393)" x="1066.95" y="0" style='font-family:"Liberation Serif",serif;font-size:26.95px;font-style:italic;stroke:#fff;stroke-width:0.14px'>σ</text>
<text transform="translate(0 384.30) scale(1.2092 1.1120)" x="983.14" y="0" style='font-family:"Liberation Serif",serif;font-size:38.50px;font-style:italic;stroke:#fff;stroke-width:0.20px'>t</text>
<text transform="translate(0 384.36) scale(1.0203 0.9663)" x="1180.53" y="0" style='font-family:"Liberation Serif",serif;font-size:38.50px;font-style:italic;stroke:#fff;stroke-width:0.20px'>v</text>
<text transform="translate(0 393.61) scale(1.4471 1.5143)" x="847.09" y="0" style='font-family:"Liberation Serif",serif;font-size:38.50px;stroke:#fff;stroke-width:0.55px'>/</text>
<text transform="translate(0 384.40) scale(1.0686 0.8410)" x="1163.65" y="0" style='font-family:"Liberation Serif",serif;font-size:38.50px;font-style:italic;stroke:#fff;stroke-width:0.20px'>σ</text>
</g>
<g fill="none" stroke="#000" stroke-linecap="square">
<rect x="91.45" y="1.25" width="520.25" height="394.75" stroke-width="3.09"/>
<rect x="746.80" y="1.25" width="520.60" height="394.75" stroke-width="3.09"/>
</g><g fill="none" stroke="#000" stroke-width="3.09">
<path d="M223.30 396.00v13.50"/>
<path d="M396.90 396.00v13.50"/>
<path d="M570.50 396.00v13.50"/>
<path d="M91.45 25.40h-13.50"/>
<path d="M91.45 126.96h-13.50"/>
<path d="M91.45 228.52h-13.50"/>
<path d="M91.45 330.08h-13.50"/>
<path d="M746.80 396.00v13.50"/>
<path d="M876.95 396.00v13.50"/>
<path d="M1007.10 396.00v13.50"/>
<path d="M1137.25 396.00v13.50"/>
<path d="M1267.40 396.00v13.50"/>
<path d="M746.80 80.40h-13.50"/>
<path d="M746.80 193.00h-13.50"/>
<path d="M746.80 305.60h-13.50"/>
</g>
</svg>
</body></html>
